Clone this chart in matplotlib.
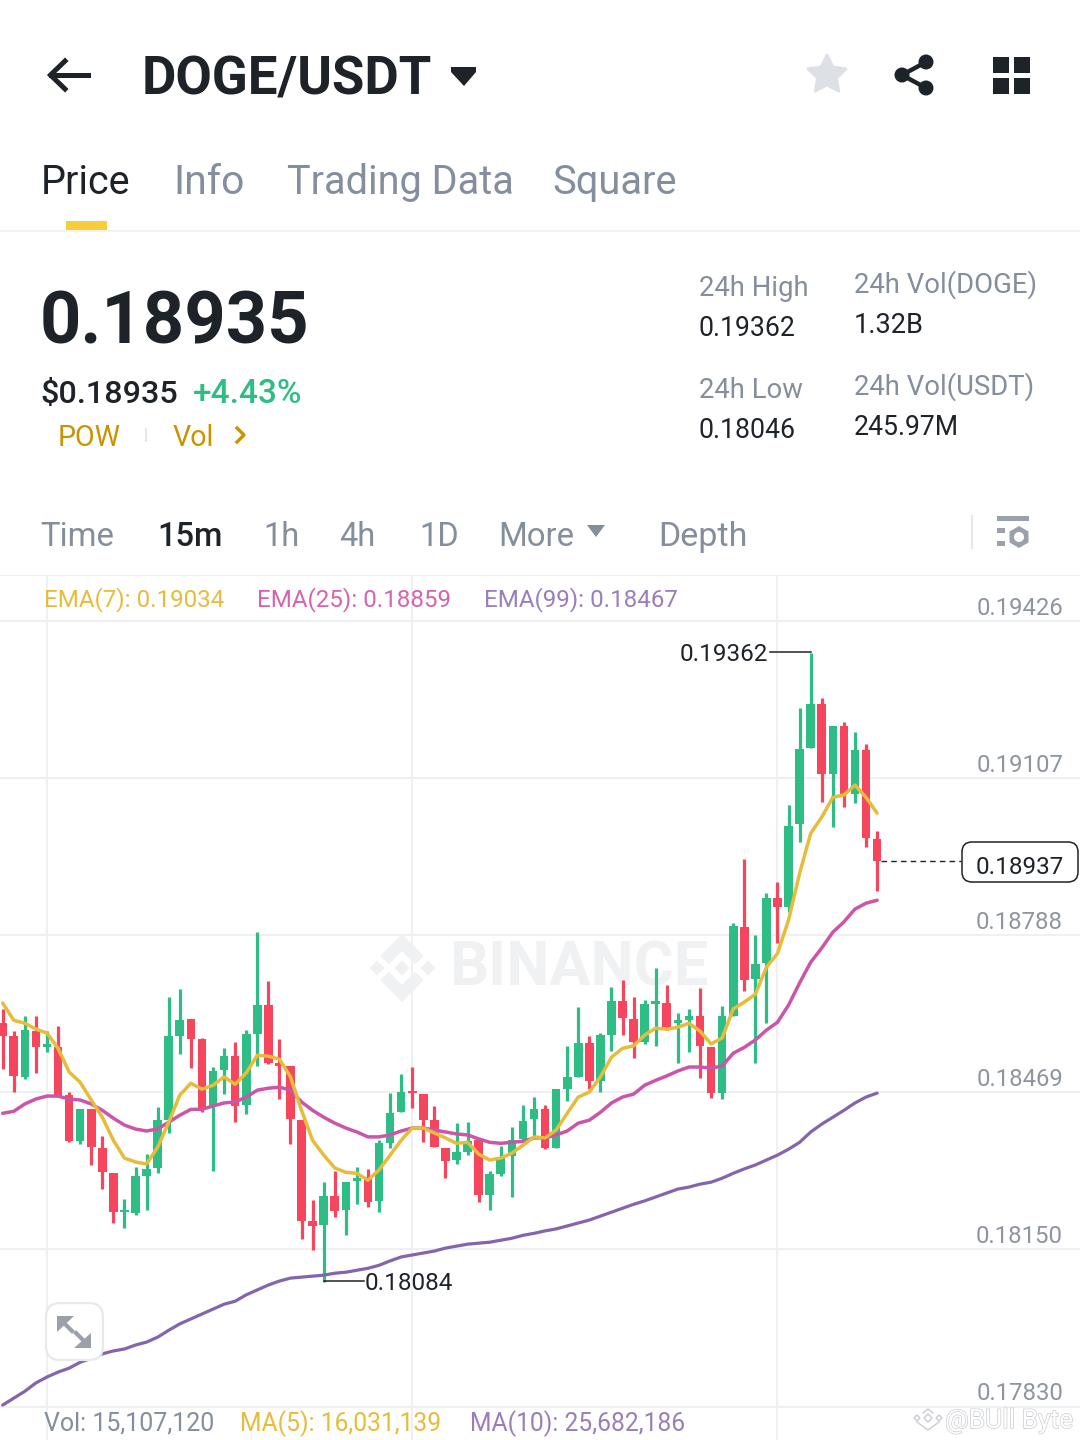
import numpy as np
import matplotlib
matplotlib.use("Agg")
import matplotlib.pyplot as plt
from matplotlib.patches import Circle, FancyBboxPatch, Polygon, Rectangle
import matplotlib.patheffects as pe

plt.rcParams['font.family'] = ['Roboto', 'DejaVu Sans']

# 15m candles, prices in units of 1e-5 usdt
opens = [18609,18583,18500,18593,18560,18560,18463,18369,18434,18355,18304,18225,18223,18298,18315,18412,18583,18617,18577,18443,
         18514,18542,18443,18587,18646,18528,18522,18412,18207,18199,18258,18229,18288,18296,18248,18365,18428,18471,18465,18412,
         18355,18331,18347,18371,18260,18302,18339,18374,18414,18434,18355,18475,18500,18569,18491,18585,18654,18617,18571,18648,
         18650,18609,18615,18623,18560,18467,18623,18804,18699,18731,18863,18845,19014,19168,19257,19115,19213,19075,19164,18983]
closes = [18583,18502,18595,18560,18567,18461,18369,18434,18357,18306,18225,18229,18298,18313,18412,18583,18615,18577,18434,18512,
          18542,18441,18587,18646,18528,18522,18414,18207,18197,18258,18227,18286,18294,18245,18365,18426,18469,18467,18412,18357,
          18329,18347,18369,18260,18302,18337,18371,18410,18434,18355,18475,18500,18569,18491,18585,18654,18619,18571,18648,18654,
          18601,18615,18623,18563,18467,18623,18806,18697,18729,18863,18845,19010,19166,19257,19115,19213,19075,19164,18985,18938]
highs = [18638,18593,18623,18623,18593,18603,18469,18434,18434,18380,18304,18252,18317,18343,18439,18662,18678,18617,18579,18520,
         18558,18571,18595,18794,18695,18577,18522,18412,18250,18286,18308,18286,18317,18313,18371,18467,18506,18520,18465,18441,
         18355,18406,18408,18374,18308,18359,18398,18443,18459,18443,18475,18563,18642,18583,18589,18682,18697,18662,18656,18721,
         18686,18630,18638,18680,18560,18644,18812,18943,18788,18873,18896,19052,19249,19362,19270,19213,19221,19201,19176,18999]
lows = [18516,18469,18495,18508,18550,18461,18367,18363,18321,18272,18203,18193,18219,18229,18304,18386,18546,18518,18428,18308,
        18465,18408,18424,18522,18526,18455,18363,18170,18148,18084,18215,18178,18241,18235,18225,18355,18428,18437,18367,18357,
        18294,18323,18341,18245,18229,18298,18256,18369,18378,18353,18355,18451,18500,18475,18469,18552,18585,18538,18567,18563,
        18595,18528,18550,18497,18457,18455,18623,18674,18528,18609,18772,18835,18977,19168,19058,19008,19048,19056,18967,18878]

ema7 = [18650,18615,18609,18597,18589,18558,18510,18489,18453,18418,18371,18335,18327,18323,18357,18408,18463,18487,18475,18483,
        18500,18485,18508,18544,18542,18536,18500,18432,18371,18341,18315,18306,18304,18290,18311,18341,18371,18396,18396,18386,
        18376,18365,18367,18343,18331,18335,18345,18361,18378,18376,18392,18426,18459,18469,18500,18540,18558,18563,18585,18599,
        18597,18601,18609,18593,18567,18579,18638,18652,18668,18723,18751,18819,18914,18995,19028,19068,19073,19093,19068,19036]
ema25 = [18426,18430,18445,18455,18461,18461,18455,18453,18445,18432,18416,18402,18394,18390,18394,18408,18422,18434,18434,18441,
         18447,18449,18459,18473,18477,18479,18473,18449,18432,18418,18406,18396,18388,18378,18378,18382,18390,18396,18396,18392,
         18388,18384,18382,18374,18367,18365,18367,18369,18376,18376,18382,18390,18406,18412,18428,18447,18459,18465,18483,18493,
         18502,18512,18520,18520,18518,18522,18548,18560,18575,18595,18611,18646,18691,18733,18762,18794,18815,18841,18853,18859]
ema99 = [17833,17847,17861,17878,17890,17900,17908,17920,17928,17937,17943,17947,17955,17961,17971,17985,17998,18008,18018,18028,
         18038,18044,18057,18067,18077,18085,18091,18093,18095,18097,18101,18103,18107,18111,18117,18126,18134,18138,18142,18146,
         18152,18156,18160,18162,18164,18168,18172,18178,18182,18187,18191,18197,18203,18209,18217,18225,18233,18241,18248,18256,
         18264,18272,18276,18282,18286,18294,18304,18313,18321,18331,18341,18353,18367,18388,18404,18418,18432,18447,18459,18467]

price_ticks = [0.19426, 0.19107, 0.18788, 0.18469, 0.18150, 0.17830]
time_grid = [4, 37, 70]  # candle index of the vertical grid lines

GREEN = '#2EBD85'
RED = '#F6465D'
YELLOW = '#E6BC3A'
PINK = '#CB56A8'
PURPLE = '#8465AC'
DARK = '#1E2329'
GRAY = '#848E9C'
AXISGRAY = '#8E959F'
GRID = '#EFF0F1'
ICON = '#9BA1AB'

fig = plt.figure(figsize=(10.8, 14.4), dpi=100, facecolor='white')

# pixel axes, one under the chart for the watermark and one on top for the ui
def pixel_ax(z):
    a = fig.add_axes([0, 0, 1, 1], zorder=z)
    a.set_xlim(0, 1080)
    a.set_ylim(1440, 0)
    a.axis('off')
    return a

bg = pixel_ax(0)
ui = pixel_ax(2)

def txt(x, y, s, size, color=DARK, weight='normal', ha='left', **kw):
    return ui.text(x, y, s, fontsize=size, color=color, fontweight=weight, ha=ha, va='baseline', **kw)

# chart
ax = fig.add_axes([0, 0, 1, 865 / 1440], zorder=1)
ax.patch.set_alpha(0)
ax.set_xlim(-0.244, 97.33)
ax.set_ylim(0.17762, 0.19520)
ax.axis('off')

op = np.array(opens) * 1e-5
cl = np.array(closes) * 1e-5
hi = np.array(highs) * 1e-5
lo = np.array(lows) * 1e-5
x = np.arange(len(op))

for p in price_ticks:
    ax.axhline(p, color=GRID, lw=1.4, zorder=1)
    ax.annotate('%.5f' % p, (1063 / 1080, p), xycoords=('axes fraction', 'data'), xytext=(0, 0.8),
                textcoords='offset points', ha='right', va='bottom', fontsize=17.2, color=AXISGRAY)
for t in time_grid:
    ax.axvline(t, color=GRID, lw=1.4, zorder=1)
ax.axhline(0.19520, color=GRID, lw=1.6, zorder=1)

cols = [GREEN if c >= o else RED for o, c in zip(op, cl)]
ax.vlines(x, lo, hi, colors=cols, lw=2.3, zorder=3)
ax.bar(x, np.abs(cl - op), bottom=np.minimum(op, cl), width=0.78, color=cols, zorder=4)

ax.plot(x, np.array(ema99) * 1e-5, color=PURPLE, lw=2.3, zorder=5, solid_capstyle='round')
ax.plot(x, np.array(ema25) * 1e-5, color=PINK, lw=2.5, zorder=6, solid_capstyle='round')
ax.plot(x, np.array(ema7) * 1e-5, color=YELLOW, lw=2.5, zorder=7, solid_capstyle='round')

# watermark
wm = '#F0F1F2'
bg.text(449, 986, 'BINANCE', fontsize=44, fontweight='bold', color=wm, ha='left', va='baseline')
def diamond(a, cx, cy, r, **kw):
    a.add_patch(Polygon([(cx, cy - r), (cx + r, cy), (cx, cy + r), (cx - r, cy)], closed=True, **kw))
diamond(bg, 402, 968, 7.5, fc=wm, ec='none')
diamond(bg, 377, 968, 7.5, fc=wm, ec='none')
diamond(bg, 428, 968, 7.5, fc=wm, ec='none')
bg.add_patch(Polygon([(402, 934), (424, 956), (415, 964), (402, 951), (389, 964), (380, 956)], fc=wm, ec='none'))
bg.add_patch(Polygon([(402, 1002), (424, 980), (415, 972), (402, 985), (389, 972), (380, 980)], fc=wm, ec='none'))

# header
ui.plot([51, 88], [75, 75], color=DARK, lw=3.6)
ui.plot([65, 50.5, 65], [61, 75, 89], color=DARK, lw=3.6, solid_joinstyle='miter')
txt(142, 95, 'DOGE/USDT', 38, weight='bold')
ui.add_patch(Polygon([(451, 67), (476, 67), (476, 72), (464, 86), (451, 72)], fc=DARK, ec='none'))

ang = np.linspace(-np.pi / 2, 1.5 * np.pi, 11)[:-1]
rad = np.where(np.arange(10) % 2 == 0, 20, 10)
ui.add_patch(Polygon(np.c_[827 + rad * np.cos(ang), 75 + rad * np.sin(ang)], fc='#DDE0E4', ec='#DDE0E4',
                     lw=2, joinstyle='round'))
ui.plot([926, 902, 926], [62, 75, 88], color=DARK, lw=3.2)
for cx, cy, r in [(926, 62, 7.5), (902, 75, 7.5), (926, 88, 7.5)]:
    ui.add_patch(Circle((cx, cy), r, fc=DARK, ec='none'))
for gx in (993, 1014):
    for gy in (57, 78):
        ui.add_patch(Rectangle((gx, gy), 16, 16, fc=DARK, ec='none'))

# tabs
txt(41, 194, 'Price', 28.5)
txt(173, 194, 'Info', 29.5, color=GRAY)
txt(287, 194, 'Trading Data', 28.5, color=GRAY)
txt(552, 194, 'Square', 28.7, color=GRAY)
ui.add_patch(Rectangle((66, 221), 41, 9, fc='#F6CE3A', ec='none'))
ui.plot([0, 1080], [230.5, 230.5], color='#F0F0F0', lw=1.2)

# price block
txt(40, 343, '0.18935', 52, weight='bold')
txt(40, 403, '$0.18935', 23.3, weight='medium')
txt(193, 403, '+4.43%', 24, color=GREEN, weight='medium')
txt(58, 446, 'POW', 20.6, color='#C99400')
txt(173, 446, 'Vol', 20.6, color='#C99400')
ui.plot([146, 146], [429, 441], color='#E6E8EA', lw=1.5)
ui.plot([237, 244, 237], [428, 435, 442], color='#C99400', lw=2.4)

txt(699, 296, '24h High', 19.8, color=GRAY)
txt(699, 336, '0.19362', 19.2)
txt(854, 293, '24h Vol(DOGE)', 19.8, color=GRAY)
txt(854, 333, '1.32B', 19.6)
txt(699, 398, '24h Low', 19.8, color=GRAY)
txt(699, 438, '0.18046', 19.2)
txt(854, 395, '24h Vol(USDT)', 19.8, color=GRAY)
txt(854, 435, '245.97M', 19.2)

# interval row
txt(40, 546, 'Time', 23.7, color=GRAY)
txt(157, 546, '15m', 23.5, weight='medium')
txt(263, 546, '1h', 23.5, color=GRAY)
txt(339, 546, '4h', 23.5, color=GRAY)
txt(419, 546, '1D', 23.5, color=GRAY)
txt(498, 546, 'More', 23.7, color=GRAY)
ui.add_patch(Polygon([(587, 525), (605, 525), (596, 537)], fc=GRAY, ec='none'))
txt(658, 546, 'Depth', 24.5, color=GRAY)
ui.plot([972, 972], [516, 548], color='#E6E8EA', lw=1.5)
ui.add_patch(Rectangle((997, 516), 32, 5, fc=ICON, ec='none'))
ui.add_patch(Rectangle((997, 528), 8, 4.5, fc=ICON, ec='none'))
ui.add_patch(Rectangle((997, 541), 8, 4.5, fc=ICON, ec='none'))
hexa = np.linspace(-np.pi / 2, 1.5 * np.pi, 7)[:-1]
ui.add_patch(Polygon(np.c_[1019 + 11 * np.cos(hexa), 537 + 11 * np.sin(hexa)], fc=ICON, ec='none'))
ui.add_patch(Circle((1019, 537), 5, fc='white', ec='none'))

# indicator legends
txt(44, 606, 'EMA(7): 0.19034', 17.4, color=YELLOW)
txt(257, 606, 'EMA(25): 0.18859', 17.4, color='#D663AC')
txt(484, 606, 'EMA(99): 0.18467', 17.4, color='#9A7EBB')
txt(44, 1431, 'Vol: 15,107,120', 18, color=GRAY)
txt(240, 1431, 'MA(5): 16,031,139', 17.7, color=YELLOW)
txt(470, 1431, 'MA(10): 25,682,186', 17.7, color='#9A7EBB')

# high / low callouts
txt(680, 661, '0.19362', 17.5)
ui.plot([770, 811], [652, 652], color=DARK, lw=1.1)
txt(365, 1290, '0.18084', 17.5)
ui.plot([324, 364], [1281, 1281], color=DARK, lw=1.1)

# last price tag
ui.plot([881, 961], [861, 861], color=DARK, lw=1.0, dashes=(4, 3))
ui.add_patch(FancyBboxPatch((962, 842), 116, 40, boxstyle='round,pad=0,rounding_size=10', fc='white', ec=DARK, lw=1.1))
ui.text(1020, 874, '0.18937', fontsize=17.5, color=DARK, ha='center', va='baseline')

# expand button
ui.add_patch(FancyBboxPatch((46, 1303), 57, 57, boxstyle='round,pad=0,rounding_size=14', fc='white', ec='#E8E9EB', lw=1.6))
ui.add_patch(Polygon([(57, 1316), (74, 1316), (57, 1332)], fc=ICON, ec='none'))
ui.add_patch(Polygon([(91, 1348), (74, 1348), (91, 1333)], fc=ICON, ec='none'))
ui.plot([64, 72], [1323, 1331], color=ICON, lw=3)
ui.plot([84, 76], [1341, 1333], color=ICON, lw=3)

# user watermark
wcol = '#C9CDD2'
txt(945, 1428, '@BUll Byte', 19, color='white', path_effects=[pe.withStroke(linewidth=1.0, foreground=wcol)])
ui.plot([923, 928, 933], [1413, 1409, 1413], color=wcol, lw=1)
ui.plot([917, 928, 939], [1422, 1430, 1422], color=wcol, lw=1)
for cx, r in [(917, 3), (928, 4), (939, 3)]:
    diamond(ui, cx, 1418, r, fc='none', ec=wcol, lw=1)

fig.savefig('out.png', dpi=100)
